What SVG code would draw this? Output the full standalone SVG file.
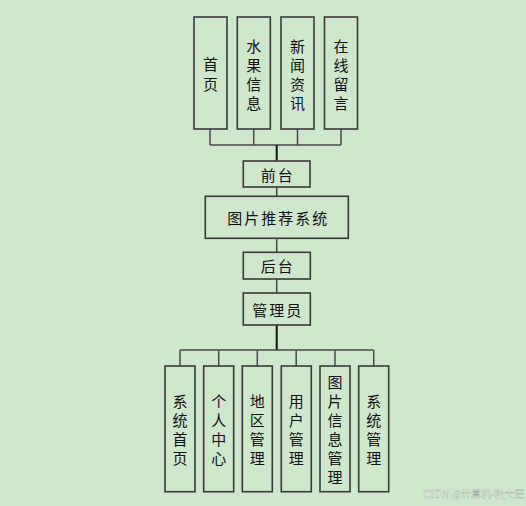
<svg xmlns="http://www.w3.org/2000/svg" width="526" height="506" viewBox="0 0 526 506">
<style>
.bg{fill:#cfe7cc}
.box{fill:#cfe7cc;stroke:#3a3a3a;stroke-width:1.6}
.t{font-family:"Noto Sans CJK SC","Microsoft YaHei",sans-serif;font-size:15px;fill:#111;text-anchor:middle;dominant-baseline:central}
.th{font-family:"Noto Sans CJK SC","Microsoft YaHei",sans-serif;font-size:15px;fill:#111;text-anchor:middle;dominant-baseline:central;letter-spacing:2px}
.br{fill:none;stroke:#4a4a4a;stroke-width:1.5}
.tr{fill:none;stroke:#111;stroke-width:2}
.wm{font-family:"Noto Sans CJK SC","Liberation Sans",sans-serif;font-size:10px;fill:#f3f6f3;stroke:#a0ada0;stroke-width:0.3}
</style>
<rect class="bg" x="0" y="0" width="526" height="506"/>
<g id="connectors">
<path class="br" d="M210,129V145M253.7,129V145M297.5,129V145M341,129V145M210,145H341"/>
<path class="tr" d="M276.7,145V161"/>
<path class="br" d="M276.7,187V196M276.7,238V252M276.7,279V293"/>
<path class="tr" d="M276.7,325V350"/>
<path class="br" d="M180,350H373.7M180,350V366M218.7,350V366M257.3,350V366M296.2,350V366M335,350V366M373.7,350V366"/>
</g>
<g id="n-home"><rect class="box" x="194" y="17" width="33" height="112"/><text class="t" x="210.5" y="63.5">首</text><text class="t" x="210.5" y="83">页</text></g>
<g id="n-fruit"><rect class="box" x="237.3" y="17" width="33" height="112"/><text class="t" x="253.8" y="45">水</text><text class="t" x="253.8" y="64">果</text><text class="t" x="253.8" y="83">信</text><text class="t" x="253.8" y="102">息</text></g>
<g id="n-news"><rect class="box" x="281" y="17" width="33" height="112"/><text class="t" x="297.5" y="45">新</text><text class="t" x="297.5" y="64">闻</text><text class="t" x="297.5" y="83">资</text><text class="t" x="297.5" y="102">讯</text></g>
<g id="n-msg"><rect class="box" x="324.5" y="17" width="33" height="112"/><text class="t" x="341" y="45">在</text><text class="t" x="341" y="64">线</text><text class="t" x="341" y="83">留</text><text class="t" x="341" y="102">言</text></g>
<g id="n-front"><rect class="box" x="243.3" y="161" width="66.7" height="26"/><text class="th" x="277.7" y="174">前台</text></g>
<g id="n-system"><rect class="box" x="205.3" y="196.3" width="143" height="42"/><text class="th" x="278.3" y="217">图片推荐系统</text></g>
<g id="n-back"><rect class="box" x="243.3" y="252.3" width="67" height="26.7"/><text class="th" x="277.8" y="265.5">后台</text></g>
<g id="n-admin"><rect class="box" x="243.3" y="293" width="67" height="32"/><text class="th" x="277.8" y="309">管理员</text></g>
<g id="n-sys-home"><rect class="box" x="165" y="366" width="30" height="125.7"/><text class="t" x="180" y="400">系</text><text class="t" x="180" y="419">统</text><text class="t" x="180" y="438">首</text><text class="t" x="180" y="457">页</text></g>
<g id="n-personal"><rect class="box" x="203.7" y="366" width="30" height="125.7"/><text class="t" x="218.7" y="400">个</text><text class="t" x="218.7" y="419">人</text><text class="t" x="218.7" y="438">中</text><text class="t" x="218.7" y="457">心</text></g>
<g id="n-region"><rect class="box" x="242.3" y="366" width="30" height="125.7"/><text class="t" x="257.3" y="400">地</text><text class="t" x="257.3" y="419">区</text><text class="t" x="257.3" y="438">管</text><text class="t" x="257.3" y="457">理</text></g>
<g id="n-user"><rect class="box" x="281.3" y="366" width="30" height="125.7"/><text class="t" x="296.3" y="400">用</text><text class="t" x="296.3" y="419">户</text><text class="t" x="296.3" y="438">管</text><text class="t" x="296.3" y="457">理</text></g>
<g id="n-image"><rect class="box" x="320" y="366" width="30" height="125.7"/><text class="t" x="335" y="381">图</text><text class="t" x="335" y="400">片</text><text class="t" x="335" y="419">信</text><text class="t" x="335" y="438">息</text><text class="t" x="335" y="457">管</text><text class="t" x="335" y="476">理</text></g>
<g id="n-sys-mgmt"><rect class="box" x="358.7" y="366" width="30" height="125.7"/><text class="t" x="373.7" y="400">系</text><text class="t" x="373.7" y="419">统</text><text class="t" x="373.7" y="438">管</text><text class="t" x="373.7" y="457">理</text></g>
<text class="wm" x="423" y="498">CSDN @计算机-秋大田</text>
</svg>
